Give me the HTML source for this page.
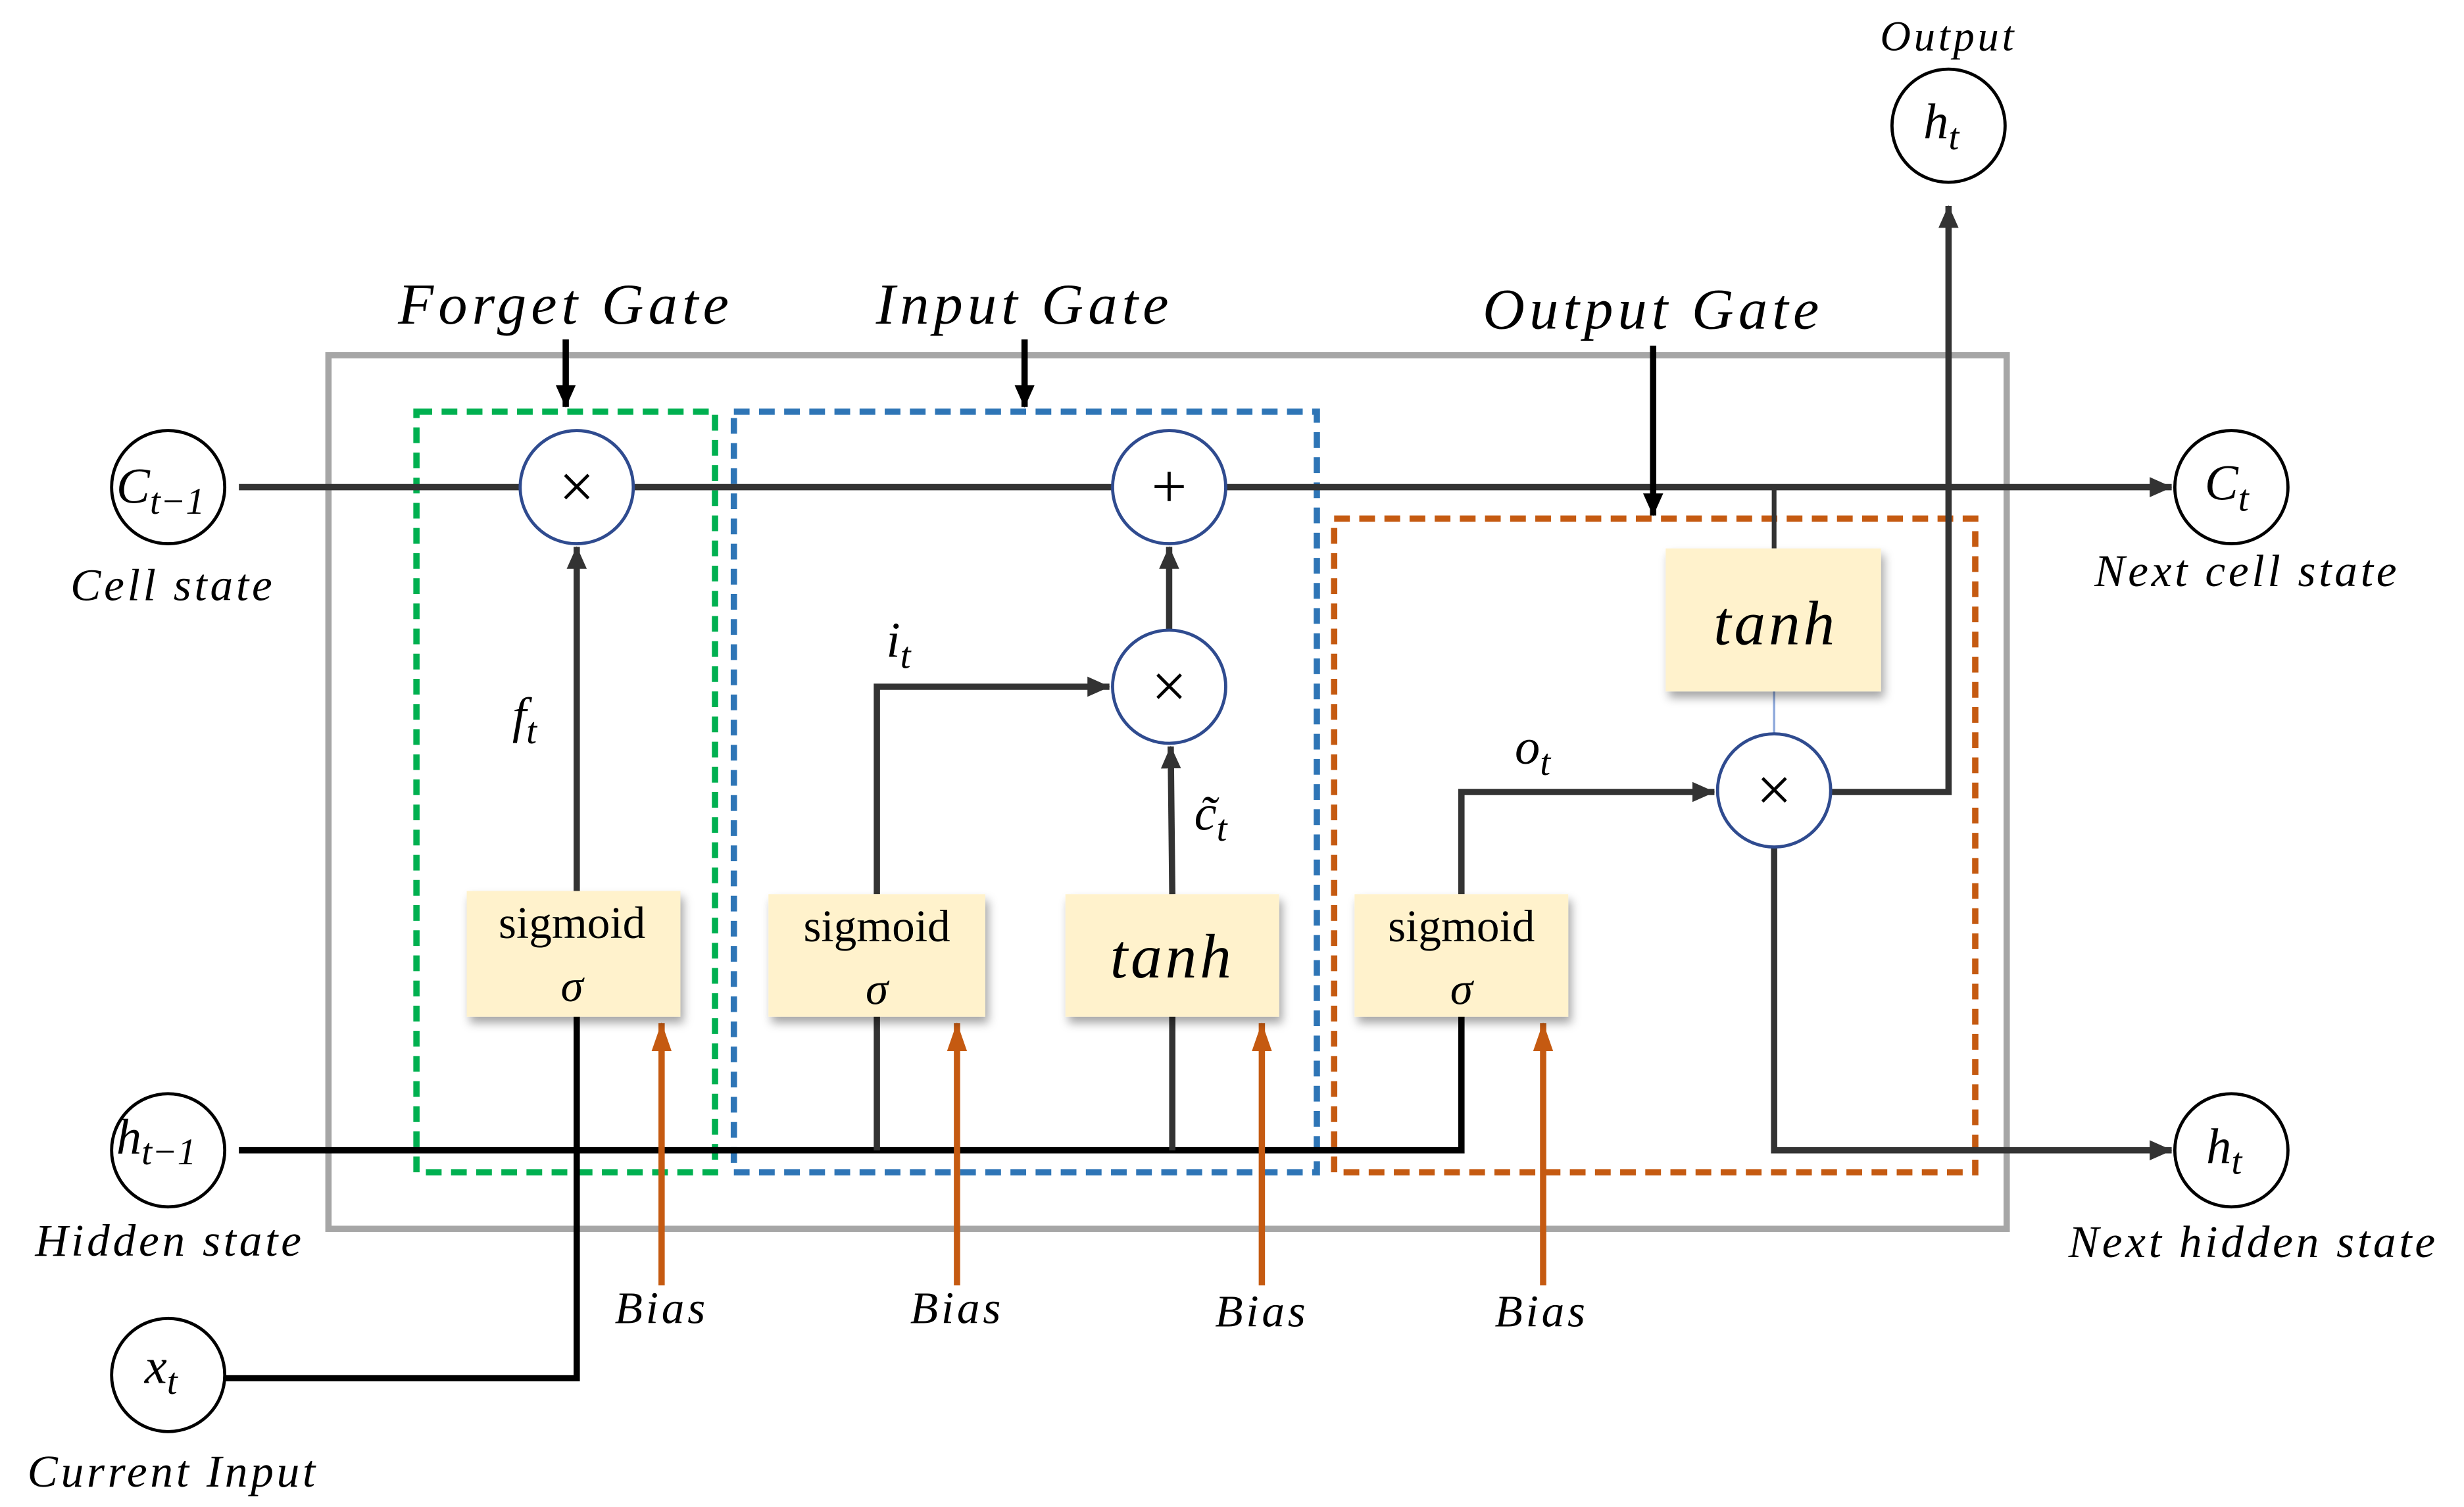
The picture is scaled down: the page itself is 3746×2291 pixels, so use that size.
<!DOCTYPE html>
<html><head><style>html,body{margin:0;padding:0;background:#fff}svg{display:block}</style></head>
<body>
<svg width="3746" height="2291" viewBox="0 0 1568 959" xmlns="http://www.w3.org/2000/svg" font-family="'Liberation Serif', serif">
<defs>
<marker id="ab" markerWidth="4" markerHeight="4" refX="3.5" refY="1.6" orient="auto" markerUnits="strokeWidth"><path d="M0,0 L3.6,1.6 L0,3.2 z" fill="#000"/></marker>
<marker id="ag" markerWidth="4" markerHeight="4" refX="3.5" refY="1.6" orient="auto" markerUnits="strokeWidth"><path d="M0,0 L3.6,1.6 L0,3.2 z" fill="#333"/></marker>
<marker id="ao" markerWidth="5" markerHeight="4" refX="4.5" refY="1.6" orient="auto" markerUnits="strokeWidth"><path d="M0,0 L4.6,1.6 L0,3.2 z" fill="#c55a11"/></marker>
<filter id="sh" x="-20%" y="-20%" width="150%" height="150%"><feDropShadow dx="2" dy="4" stdDeviation="3" flood-color="#000" flood-opacity="0.35"/></filter>
</defs>
<rect x="0" y="0" width="1568" height="959" fill="#fff"/>
<rect x="209" y="226" width="1068" height="556" fill="none" stroke="#a6a6a6" stroke-width="4"/>
<rect x="265" y="262" width="190" height="484" fill="none" stroke="#00b050" stroke-width="4" stroke-dasharray="10,6"/>
<rect x="467" y="262" width="371" height="484" fill="none" stroke="#2e75b6" stroke-width="4" stroke-dasharray="10,6"/>
<rect x="849" y="330" width="408" height="416" fill="none" stroke="#c55a11" stroke-width="4" stroke-dasharray="10,6"/>
<line x1="152" y1="310" x2="1382" y2="310" stroke="#333" stroke-width="4" marker-end="url(#ag)"/>
<polyline points="152,732 930,732 930,647" fill="none" stroke="#000" stroke-width="4"/>
<polyline points="143,877 367,877 367,647" fill="none" stroke="#000" stroke-width="4"/>
<line x1="367" y1="567" x2="367" y2="348" stroke="#333" stroke-width="4" marker-end="url(#ag)"/>
<line x1="558" y1="732" x2="558" y2="647" stroke="#333" stroke-width="4"/>
<polyline points="558,569 558,437 706,437" fill="none" stroke="#333" stroke-width="4" marker-end="url(#ag)"/>
<line x1="746" y1="732" x2="746" y2="647" stroke="#333" stroke-width="4"/>
<line x1="746" y1="569" x2="745" y2="475" stroke="#333" stroke-width="4" marker-end="url(#ag)"/>
<line x1="744" y1="401" x2="744" y2="348" stroke="#333" stroke-width="4" marker-end="url(#ag)"/>
<polyline points="930,569 930,504 1091,504" fill="none" stroke="#333" stroke-width="4" marker-end="url(#ag)"/>
<line x1="1129" y1="310" x2="1129" y2="349" stroke="#333" stroke-width="3"/>
<line x1="1129" y1="440" x2="1129" y2="467" stroke="#8faadc" stroke-width="1.5"/>
<polyline points="1165,504 1240,504 1240,131" fill="none" stroke="#333" stroke-width="4" marker-end="url(#ag)"/>
<polyline points="1129,539 1129,732 1382,732" fill="none" stroke="#333" stroke-width="4" marker-end="url(#ag)"/>
<line x1="360" y1="216" x2="360" y2="259" stroke="#000" stroke-width="4" marker-end="url(#ab)"/>
<line x1="652" y1="216" x2="652" y2="259" stroke="#000" stroke-width="4" marker-end="url(#ab)"/>
<line x1="1052" y1="220" x2="1052" y2="328" stroke="#000" stroke-width="4" marker-end="url(#ab)"/>
<g stroke="#c55a11" stroke-width="4">
<line x1="421" y1="818" x2="421" y2="651" marker-end="url(#ao)"/>
<line x1="609" y1="818" x2="609" y2="651" marker-end="url(#ao)"/>
<line x1="803" y1="818" x2="803" y2="651" marker-end="url(#ao)"/>
<line x1="982" y1="818" x2="982" y2="651" marker-end="url(#ao)"/>
</g>
<g fill="#fff2cc" filter="url(#sh)">
<rect x="297" y="567" width="136" height="80"/>
<rect x="489" y="569" width="138" height="78"/>
<rect x="678" y="569" width="136" height="78"/>
<rect x="862" y="569" width="136" height="78"/>
<rect x="1060" y="349" width="137" height="91"/>
</g>
<g font-size="29" text-anchor="middle" fill="#000">
<text x="364" y="597">sigmoid</text><text x="364" y="637" font-style="italic">σ</text>
<text x="558" y="599">sigmoid</text><text x="558" y="639" font-style="italic">σ</text>
<text x="930" y="599">sigmoid</text><text x="930" y="639" font-style="italic">σ</text>
<text x="746" y="622" font-size="40" font-style="italic" letter-spacing="2">tanh</text>
<text x="1130" y="410" font-size="40" font-style="italic" letter-spacing="2">tanh</text>
</g>
<g fill="#fff" stroke="#2f4b8f" stroke-width="2">
<circle cx="367" cy="310" r="36"/><circle cx="744" cy="310" r="36"/>
<circle cx="744" cy="437" r="36"/><circle cx="1129" cy="503" r="36"/>
</g>
<g font-size="40" text-anchor="middle" fill="#000">
<text x="367" y="323">×</text><text x="744" y="323">+</text>
<text x="744" y="450">×</text><text x="1129" y="516">×</text>
</g>
<g fill="#fff" stroke="#000" stroke-width="2">
<circle cx="107" cy="310" r="36"/><circle cx="107" cy="732" r="36"/>
<circle cx="107" cy="875" r="36"/><circle cx="1420" cy="310" r="36"/>
<circle cx="1420" cy="732" r="36"/><circle cx="1240" cy="80" r="36"/>
</g>
<g font-style="italic" fill="#000" font-size="32">
<text x="74" y="320">C<tspan font-size="24" dy="7">t−1</tspan></text>
<text x="74" y="734">h<tspan font-size="24" dy="7">t−1</tspan></text>
<text x="92" y="880">x<tspan font-size="24" dy="7">t</tspan></text>
<text x="1403" y="318">C<tspan font-size="24" dy="7">t</tspan></text>
<text x="1404" y="740">h<tspan font-size="24" dy="7">t</tspan></text>
<text x="1224" y="88">h<tspan font-size="24" dy="7">t</tspan></text>
<text x="326" y="466">f<tspan font-size="24" dy="7">t</tspan></text>
<text x="564" y="418">i<tspan font-size="24" dy="7">t</tspan></text>
<text x="964" y="486">o<tspan font-size="24" dy="7">t</tspan></text>
<text x="760" y="528">c̃<tspan font-size="24" dy="7">t</tspan></text>
</g>
<g font-style="italic" fill="#000" font-size="29" text-anchor="middle" letter-spacing="2">
<text x="110" y="382">Cell state</text>
<text x="108" y="799">Hidden state</text>
<text x="110" y="946">Current Input</text>
<text x="1430" y="373">Next cell state</text>
<text x="1434" y="800">Next hidden state</text>
<text x="1240" y="32" font-size="27">Output</text>
<text x="421" y="842">Bias</text><text x="609" y="842">Bias</text>
<text x="803" y="844">Bias</text><text x="981" y="844">Bias</text>
<text x="360" y="206" font-size="37" letter-spacing="3">Forget Gate</text>
<text x="652" y="206" font-size="37" letter-spacing="3">Input Gate</text>
<text x="1052" y="209" font-size="37" letter-spacing="3">Output Gate</text>
</g>
</svg>
</body></html>
